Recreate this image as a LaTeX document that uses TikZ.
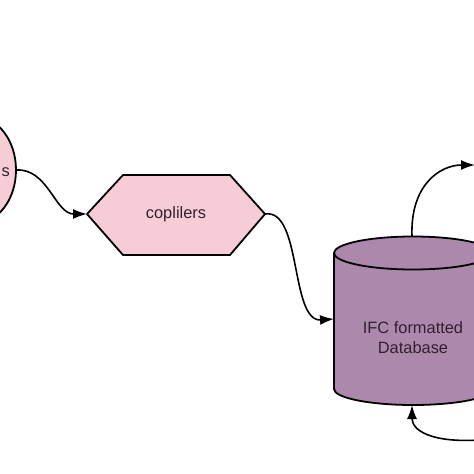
\documentclass[tikz,border=0pt]{standalone}
\usepackage{fontspec}
\setmainfont{Liberation Sans}
\usetikzlibrary{arrows.meta}
\definecolor{pinkfill}{RGB}{246,205,215}
\definecolor{purplefill}{RGB}{172,136,172}
\definecolor{txt}{RGB}{50,32,48}
\begin{document}
\begin{tikzpicture}[x=1pt,y=-1pt,
  outline/.style={draw=black,line width=1.8pt,line join=round},
  conn/.style={draw=black,line width=1.6pt,-{Latex[length=14pt,width=10pt]}},
  lbl/.style={text=txt,font=\fontsize{16.4}{20}\selectfont,align=center,inner sep=0pt}]
\useasboundingbox (0,0) rectangle (474,474);
\fill[white] (0,0) rectangle (474,474);
\begin{scope}
\clip (0,0) rectangle (474,474);
% left ellipse
\draw[outline,fill=pinkfill] (-24,170) ellipse [x radius=40,y radius=53];
\coordinate (ellR) at (16,170);
\node[lbl,anchor=east] (elltxt) at (10,172) {s};
% hexagon
\draw[outline,fill=pinkfill] (87,214) -- (123,175) -- (230,175) -- (265,214) -- (230,255) -- (123,255) -- cycle;
\coordinate (hexL) at (87,214);
\coordinate (hexR) at (265,214);
\node[lbl] (hex) at (176,214) {coplilers};
% cylinder
\draw[outline,fill=purplefill] (334,253) -- (334,389) arc[start angle=180,end angle=0,x radius=79,y radius=16] -- (492,253) arc[start angle=0,end angle=-180,x radius=79,y radius=16.5] -- cycle;
\draw[outline] (334,253) arc[start angle=180,end angle=0,x radius=79,y radius=16.5];
\coordinate (cylL) at (334,319);
\coordinate (cylT) at (412,236.5);
\coordinate (cylB) at (412,405);
\node[lbl] (db) at (413,338) {IFC formatted\\Database};
% outside ends
\coordinate (outTop) at (475,165);
\coordinate (outBot) at (480,440);
% connectors
\draw[conn] (ellR) .. controls (48,168) and (55,214) .. (hexL);
\draw[conn] (hexR) .. controls (302,208) and (290,322) .. (cylL);
\draw[conn] (cylT) .. controls (410,185) and (440,165) .. (outTop);
\draw[conn] (outBot) .. controls (430,443) and (412,430) .. (cylB);
\end{scope}
\end{tikzpicture}
\end{document}
